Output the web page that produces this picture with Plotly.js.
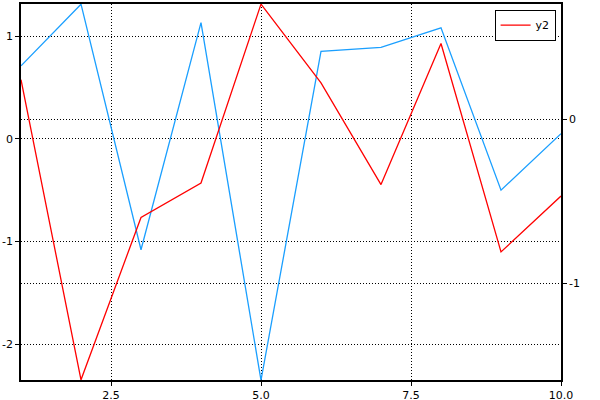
<!DOCTYPE html>
<html>
<head>
<meta charset="utf-8">
<script src="https://cdn.plot.ly/plotly-3.0.1.min.js"></script>
<style>
  html, body { margin: 0; padding: 0; background: #fff; }
  #plot { width: 600px; height: 400px; }
</style>
</head>
<body>
<div id="plot"></div>
<script>
// data
const xs = [1, 2, 3, 4, 5, 6, 7, 8, 9, 10];
const y1 = [0.71, 1.31, -1.08, 1.13, -2.35, 0.85, 0.89, 1.08, -0.50, 0.05];
const y2 = [0.24, -1.59, -0.60, -0.39, 0.70, 0.22, -0.40, 0.46, -0.81, -0.47];

const xTicks = [2.5, 5, 7.5, 10];
const xTickText = ["2.5", "5.0", "7.5", "10.0"];
const leftTicks = [1, 0, -1, -2];
const rightTicks = [0, -1];

let axisStyle = {
    showline: true,
    linecolor: "black",
    linewidth: 1.5,
    ticks: "outside",
    ticklen: 4,
    tickcolor: "black",
    showgrid: true,
    gridcolor: "black",
    griddash: "1px,2px",
    gridwidth: 1,
    zeroline: false,
    tickfont: {family: "DejaVu Sans", size: 11, color: "black"}
};

let traces = [
    {
        x: xs,
        y: y1,
        mode: "lines",
        name: "y1",
        line: {color: "#1a9fff", width: 1.3},
        showlegend: false,
        yaxis: "y"
    },
    {
        x: xs,
        y: y2,
        mode: "lines",
        name: "y2",
        line: {color: "#ff0000", width: 1.3},
        yaxis: "y2"
    }
];

let layout = {
    width: 600,
    height: 400,
    margin: {l: 21, r: 39, t: 4, b: 20},
    paper_bgcolor: "white",
    plot_bgcolor: "white",
    font: {family: "DejaVu Sans", size: 11, color: "black"},
    xaxis: Object.assign({}, axisStyle, {
        range: [1, 10],
        tickvals: xTicks,
        ticktext: xTickText,
        mirror: true
    }),
    yaxis: Object.assign({}, axisStyle, {
        range: [-2.348, 1.312],
        tickvals: leftTicks,
        ticktext: leftTicks.map(String),
        mirror: false
    }),
    yaxis2: Object.assign({}, axisStyle, {
        range: [-1.591, 0.701],
        tickvals: rightTicks,
        ticktext: rightTicks.map(String),
        overlaying: "y",
        side: "right"
    }),
    legend: {
        x: 0.99,
        y: 0.985,
        xanchor: "right",
        yanchor: "top",
        bgcolor: "white",
        bordercolor: "black",
        borderwidth: 1,
        itemwidth: 30,
        font: {family: "DejaVu Sans", size: 11, color: "black"}
    }
};

Plotly.newPlot("plot", traces, layout, {displayModeBar: false});
</script>
</body>
</html>
